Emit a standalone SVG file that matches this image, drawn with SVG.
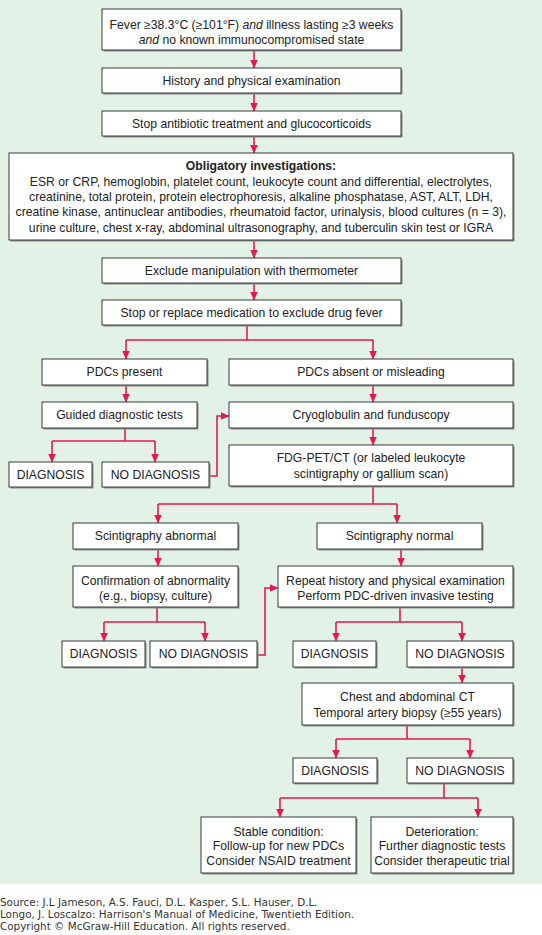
<svg xmlns="http://www.w3.org/2000/svg" width="542" height="935" viewBox="0 0 542 935">
<style>
.bx{fill:#fff;stroke:#3a3a3a;stroke-width:1}
.sh{fill:#8c8c8c}
.t{font-family:"Liberation Sans",Arial,sans-serif;font-size:12.2px;fill:#222;text-anchor:middle}
.b{font-weight:bold}
.c{fill:none;stroke:#e5194f;stroke-width:1.6}
.src{font-family:"DejaVu Sans",Verdana,sans-serif;font-size:10.4px;fill:#333}
</style>
<defs>
<marker id="ah" markerUnits="userSpaceOnUse" markerWidth="9" markerHeight="10" refX="8.5" refY="4" orient="auto">
<path d="M0,0 L9,4 L0,8 z" fill="#e5194f"/>
</marker>
</defs>
<rect x="0" y="0" width="542" height="884" fill="#e2f2e7"/>

<g id="connectors">
<path class="c" d="M254,50 V68" marker-end="url(#ah)"/>
<path class="c" d="M254,93 V111" marker-end="url(#ah)"/>
<path class="c" d="M254,136 V153" marker-end="url(#ah)"/>
<path class="c" d="M254,240 V258" marker-end="url(#ah)"/>
<path class="c" d="M254,283 V300" marker-end="url(#ah)"/>
<path class="c" d="M247,326 V340"/>
<path class="c" d="M126,340 H373"/>
<path class="c" d="M126,340 V359" marker-end="url(#ah)"/>
<path class="c" d="M373,340 V359" marker-end="url(#ah)"/>
<path class="c" d="M126,385 V402" marker-end="url(#ah)"/>
<path class="c" d="M373,385 V402" marker-end="url(#ah)"/>
<path class="c" d="M125,428 V441 M52,441 H155"/>
<path class="c" d="M52,441 V462" marker-end="url(#ah)"/>
<path class="c" d="M155,441 V462" marker-end="url(#ah)"/>
<path class="c" d="M209,476 H217 V416 H229" marker-end="url(#ah)"/>
<path class="c" d="M373,428 V445" marker-end="url(#ah)"/>
<path class="c" d="M373,486 V504 M158,504 H397"/>
<path class="c" d="M158,504 V523" marker-end="url(#ah)"/>
<path class="c" d="M397,504 V523" marker-end="url(#ah)"/>
<path class="c" d="M158,549 V566" marker-end="url(#ah)"/>
<path class="c" d="M401,549 V566" marker-end="url(#ah)"/>
<path class="c" d="M157,607 V622 M104,622 H205"/>
<path class="c" d="M104,622 V641" marker-end="url(#ah)"/>
<path class="c" d="M205,622 V641" marker-end="url(#ah)"/>
<path class="c" d="M257,655 H265 V588 H278" marker-end="url(#ah)"/>
<path class="c" d="M400,607 V622 M336,622 H462"/>
<path class="c" d="M336,622 V641" marker-end="url(#ah)"/>
<path class="c" d="M462,622 V641" marker-end="url(#ah)"/>
<path class="c" d="M462,667 V683" marker-end="url(#ah)"/>
<path class="c" d="M407,725 V739 M336,739 H470"/>
<path class="c" d="M336,739 V758" marker-end="url(#ah)"/>
<path class="c" d="M470,739 V758" marker-end="url(#ah)"/>
<path class="c" d="M444,783 V798 M280,798 H478"/>
<path class="c" d="M280,798 V817" marker-end="url(#ah)"/>
<path class="c" d="M478,798 V817" marker-end="url(#ah)"/>
</g>

<g id="n1"><rect class="sh" x="103.5" y="10.5" width="299" height="41"/><rect class="bx" x="102" y="9" width="299" height="41"/>
<text class="t" x="251.5" y="29">Fever ≥38.3°C (≥101°F) <tspan font-style="italic">and</tspan> illness lasting ≥3 weeks</text>
<text class="t" x="251.5" y="44"><tspan font-style="italic">and</tspan> no known immunocompromised state</text></g>

<g id="n2"><rect class="sh" x="103.5" y="69.5" width="299" height="25"/><rect class="bx" x="102" y="68" width="299" height="25"/>
<text class="t" x="251.5" y="84.5">History and physical examination</text></g>

<g id="n3"><rect class="sh" x="103.5" y="112.5" width="299" height="25"/><rect class="bx" x="102" y="111" width="299" height="25"/>
<text class="t" x="251.5" y="127.5">Stop antibiotic treatment and glucocorticoids</text></g>

<g id="n4"><rect class="sh" x="10.5" y="154.5" width="504" height="87"/><rect class="bx" x="9" y="153" width="504" height="87"/>
<text class="t b" x="261" y="170">Obligatory investigations:</text>
<text class="t" x="261" y="186">ESR or CRP, hemoglobin, platelet count, leukocyte count and differential, electrolytes,</text>
<text class="t" x="261" y="201">creatinine, total protein, protein electrophoresis, alkaline phosphatase, AST, ALT, LDH,</text>
<text class="t" x="261" y="216">creatine kinase, antinuclear antibodies, rheumatoid factor, urinalysis, blood cultures (n = 3),</text>
<text class="t" x="261" y="232">urine culture, chest x-ray, abdominal ultrasonography, and tuberculin skin test or IGRA</text></g>

<g id="n5"><rect class="sh" x="103.5" y="259.5" width="299" height="25"/><rect class="bx" x="102" y="258" width="299" height="25"/>
<text class="t" x="251.5" y="274.5">Exclude manipulation with thermometer</text></g>

<g id="n6"><rect class="sh" x="103.5" y="301.5" width="299" height="25"/><rect class="bx" x="102" y="300" width="299" height="25"/>
<text class="t" x="251.5" y="317">Stop or replace medication to exclude drug fever</text></g>

<g id="n7"><rect class="sh" x="43.5" y="360.5" width="165" height="26"/><rect class="bx" x="42" y="359" width="165" height="26"/>
<text class="t" x="124.5" y="376">PDCs present</text></g>

<g id="n8"><rect class="sh" x="230.5" y="360.5" width="284" height="26"/><rect class="bx" x="229" y="359" width="284" height="26"/>
<text class="t" x="371" y="376">PDCs absent or misleading</text></g>

<g id="n9"><rect class="sh" x="43.5" y="403.5" width="155" height="26"/><rect class="bx" x="42" y="402" width="155" height="26"/>
<text class="t" x="119.5" y="419">Guided diagnostic tests</text></g>

<g id="n10"><rect class="sh" x="230.5" y="403.5" width="284" height="26"/><rect class="bx" x="229" y="402" width="284" height="26"/>
<text class="t" x="371" y="419">Cryoglobulin and funduscopy</text></g>

<g id="n11"><rect class="sh" x="10.5" y="463.5" width="83" height="25"/><rect class="bx" x="9" y="462" width="83" height="25"/>
<text class="t" x="50.5" y="478.5">DIAGNOSIS</text></g>

<g id="n12"><rect class="sh" x="103.5" y="463.5" width="107" height="25"/><rect class="bx" x="102" y="462" width="107" height="25"/>
<text class="t" x="155.5" y="478.5">NO DIAGNOSIS</text></g>

<g id="n13"><rect class="sh" x="230.5" y="446.5" width="284" height="41"/><rect class="bx" x="229" y="445" width="284" height="41"/>
<text class="t" x="371" y="462">FDG-PET/CT (or labeled leukocyte</text>
<text class="t" x="371" y="478">scintigraphy or gallium scan)</text></g>

<g id="n14"><rect class="sh" x="74.5" y="524.5" width="165" height="26"/><rect class="bx" x="73" y="523" width="165" height="26"/>
<text class="t" x="155.5" y="540">Scintigraphy abnormal</text></g>

<g id="n15"><rect class="sh" x="318.5" y="524.5" width="165" height="26"/><rect class="bx" x="317" y="523" width="165" height="26"/>
<text class="t" x="399.5" y="540">Scintigraphy normal</text></g>

<g id="n16"><rect class="sh" x="74.5" y="567.5" width="165" height="41"/><rect class="bx" x="73" y="566" width="165" height="41"/>
<text class="t" x="155.5" y="585">Confirmation of abnormality</text>
<text class="t" x="155.5" y="600">(e.g., biopsy, culture)</text></g>

<g id="n17"><rect class="sh" x="279.5" y="567.5" width="235" height="41"/><rect class="bx" x="278" y="566" width="235" height="41"/>
<text class="t" x="395.5" y="585">Repeat history and physical examination</text>
<text class="t" x="395.5" y="600">Perform PDC-driven invasive testing</text></g>

<g id="n18"><rect class="sh" x="63.5" y="642.5" width="83" height="26"/><rect class="bx" x="62" y="641" width="83" height="26"/>
<text class="t" x="103.5" y="658">DIAGNOSIS</text></g>

<g id="n19"><rect class="sh" x="151.5" y="642.5" width="107" height="26"/><rect class="bx" x="150" y="641" width="107" height="26"/>
<text class="t" x="203.5" y="658">NO DIAGNOSIS</text></g>

<g id="n20"><rect class="sh" x="294.5" y="642.5" width="83" height="26"/><rect class="bx" x="293" y="641" width="83" height="26"/>
<text class="t" x="334.5" y="658">DIAGNOSIS</text></g>

<g id="n21"><rect class="sh" x="408.5" y="642.5" width="106" height="26"/><rect class="bx" x="407" y="641" width="106" height="26"/>
<text class="t" x="460" y="658">NO DIAGNOSIS</text></g>

<g id="n22"><rect class="sh" x="303.5" y="684.5" width="211" height="42"/><rect class="bx" x="302" y="683" width="211" height="42"/>
<text class="t" x="407.5" y="701">Chest and abdominal CT</text>
<text class="t" x="407.5" y="717">Temporal artery biopsy (≥55 years)</text></g>

<g id="n23"><rect class="sh" x="294.5" y="759.5" width="84" height="25"/><rect class="bx" x="293" y="758" width="84" height="25"/>
<text class="t" x="335" y="774.5">DIAGNOSIS</text></g>

<g id="n24"><rect class="sh" x="408.5" y="759.5" width="106" height="25"/><rect class="bx" x="407" y="758" width="106" height="25"/>
<text class="t" x="460" y="774.5">NO DIAGNOSIS</text></g>

<g id="n25"><rect class="sh" x="202.5" y="818.5" width="155" height="56"/><rect class="bx" x="201" y="817" width="155" height="56"/>
<text class="t" x="278.5" y="836">Stable condition:</text>
<text class="t" x="278.5" y="850">Follow-up for new PDCs</text>
<text class="t" x="278.5" y="865">Consider NSAID treatment</text></g>

<g id="n26"><rect class="sh" x="372.5" y="818.5" width="142" height="56"/><rect class="bx" x="371" y="817" width="142" height="56"/>
<text class="t" x="442" y="836">Deterioration:</text>
<text class="t" x="442" y="850">Further diagnostic tests</text>
<text class="t" x="442" y="865">Consider therapeutic trial</text></g>

<g id="source">
<text class="src" x="0" y="906">Source: J.L Jameson, A.S. Fauci, D.L. Kasper, S.L. Hauser, D.L.</text>
<text class="src" x="0" y="918">Longo, J. Loscalzo: Harrison's Manual of Medicine, Twentieth Edition.</text>
<text class="src" x="0" y="930">Copyright © McGraw-Hill Education. All rights reserved.</text>
</g>
</svg>
